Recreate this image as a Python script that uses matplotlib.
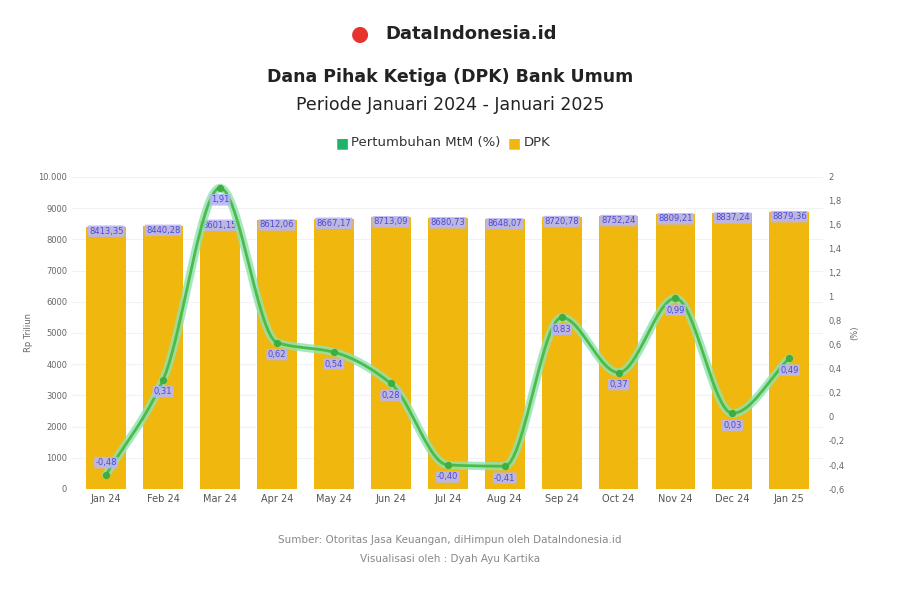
import numpy as np
import matplotlib
matplotlib.use('Agg')
from matplotlib import pyplot as plt

months = ['Jan 24', 'Feb 24', 'Mar 24', 'Apr 24', 'May 24', 'Jun 24', 'Jul 24',
          'Aug 24', 'Sep 24', 'Oct 24', 'Nov 24', 'Dec 24', 'Jan 25']
dpk = [8413.35, 8440.28, 8601.15, 8612.06, 8667.17, 8713.09, 8680.73,
       8648.07, 8720.78, 8752.24, 8809.21, 8837.24, 8879.36]
mtm = [-0.48, 0.31, 1.91, 0.62, 0.54, 0.28, -0.40, -0.41, 0.83, 0.37, 0.99, 0.03, 0.49]


def smooth(x, y, n=20):
    # monotone cubic curve through the points, for drawing only
    x = np.asarray(x, float); y = np.asarray(y, float)
    d = np.diff(y) / np.diff(x)
    m = np.zeros_like(y)
    m[0], m[-1] = d[0], d[-1]
    for i in range(1, len(y) - 1):
        if d[i-1] * d[i] > 0:
            m[i] = 2 / (1/d[i-1] + 1/d[i])
    xs, ys = [], []
    for i in range(len(x) - 1):
        t = np.linspace(0, 1, n, endpoint=False)
        h = x[i + 1] - x[i]
        h00 = 2*t**3 - 3*t**2 + 1; h10 = t**3 - 2*t**2 + t
        h01 = -2*t**3 + 3*t**2; h11 = t**3 - t**2
        xs.append(x[i] + t*h)
        ys.append(h00*y[i] + h10*h*m[i] + h01*y[i+1] + h11*h*m[i+1])
    xs.append([x[-1]]); ys.append([y[-1]])
    return np.concatenate(xs), np.concatenate(ys)


fig = plt.figure(figsize=(9, 6), dpi=100)
ax = fig.add_axes([0.08, 0.185, 0.835, 0.52])
x = np.arange(len(months))
ax.bar(x, dpk, width=0.7, color='#F0B70E', zorder=2)
ax.set_ylim(0, 10000)
ax.set_yticks(np.arange(0, 10001, 1000))
ax.set_yticklabels(['0'] + [str(v) for v in range(1000, 10000, 1000)] + ['10.000'],
                   fontsize=6, color='#666')
ax.set_xticks(x)
ax.set_xticklabels(months, fontsize=7, color='#555')
ax.set_xlim(-0.6, len(months) - 0.4)
ax.set_ylabel('Rp Triliun', fontsize=6, color='#666')
for s in ax.spines.values():
    s.set_visible(False)
ax.tick_params(length=0)
ax.grid(axis='y', color='#f2f2f2', lw=0.8, zorder=0)
for xi, v in zip(x, dpk):
    ax.text(xi, v - 150, f'{v:.2f}'.replace('.', ','), ha='center', va='center',
            fontsize=6, color='#4b4bd8', zorder=5,
            bbox=dict(boxstyle='round,pad=0.15', fc='#b9b6f5', ec='none', alpha=0.9))

ax2 = ax.twinx()
ax2.set_ylim(-0.6, 2.0)
ticks = np.round(np.arange(-0.6, 2.01, 0.2), 1)
ax2.set_yticks(ticks)
ax2.set_yticklabels([('%g' % t).replace('.', ',') for t in ticks], fontsize=6, color='#666')
ax2.set_ylabel('(%)', fontsize=6, color='#666')
for s in ax2.spines.values():
    s.set_visible(False)
ax2.tick_params(length=0)
sx, sy = smooth(x, mtm)
ax2.plot(sx, sy, color='#8fe3b0', lw=6, alpha=0.8, zorder=3, solid_capstyle='round')
ax2.plot(sx, sy, color='#4cbb4c', lw=2, zorder=4)
ax2.scatter(x, mtm, color='#3fae3f', s=18, zorder=5)
for xi, v in zip(x, mtm):
    off = 0.1 if xi == 0 else -0.1
    ax2.text(xi, v + off, ('%.2f' % v).replace('.', ','), ha='center', va='center',
             fontsize=6, color='#4b4bd8', zorder=6,
             bbox=dict(boxstyle='round,pad=0.15', fc='#b9b6f5', ec='none', alpha=0.9))

fig.text(0.428, 0.943, 'DataIndonesia.id', ha='left', va='center', fontsize=13,
         fontweight='bold', color='#222')
fig.text(0.4, 0.943, '●', ha='center', va='center', fontsize=15, color='#e8322f')
fig.text(0.5, 0.872, 'Dana Pihak Ketiga (DPK) Bank Umum', ha='center', va='center',
         fontsize=12.5, fontweight='bold', color='#222')
fig.text(0.5, 0.825, 'Periode Januari 2024 - Januari 2025', ha='center', va='center',
         fontsize=12.5, color='#222')
fig.text(0.38, 0.762, '■', ha='center', va='center', fontsize=10, color='#1db36a')
fig.text(0.39, 0.762, 'Pertumbuhan MtM (%)', ha='left', va='center', fontsize=9.5, color='#333')
fig.text(0.572, 0.762, '■', ha='center', va='center', fontsize=10, color='#F0B70E')
fig.text(0.582, 0.762, 'DPK', ha='left', va='center', fontsize=9.5, color='#333')
fig.text(0.5, 0.1, 'Sumber: Otoritas Jasa Keuangan, diHimpun oleh DataIndonesia.id',
         ha='center', va='center', fontsize=7.5, color='#888')
fig.text(0.5, 0.068, 'Visualisasi oleh : Dyah Ayu Kartika', ha='center', va='center',
         fontsize=7.5, color='#888')
fig.savefig('out.png', dpi=100)
